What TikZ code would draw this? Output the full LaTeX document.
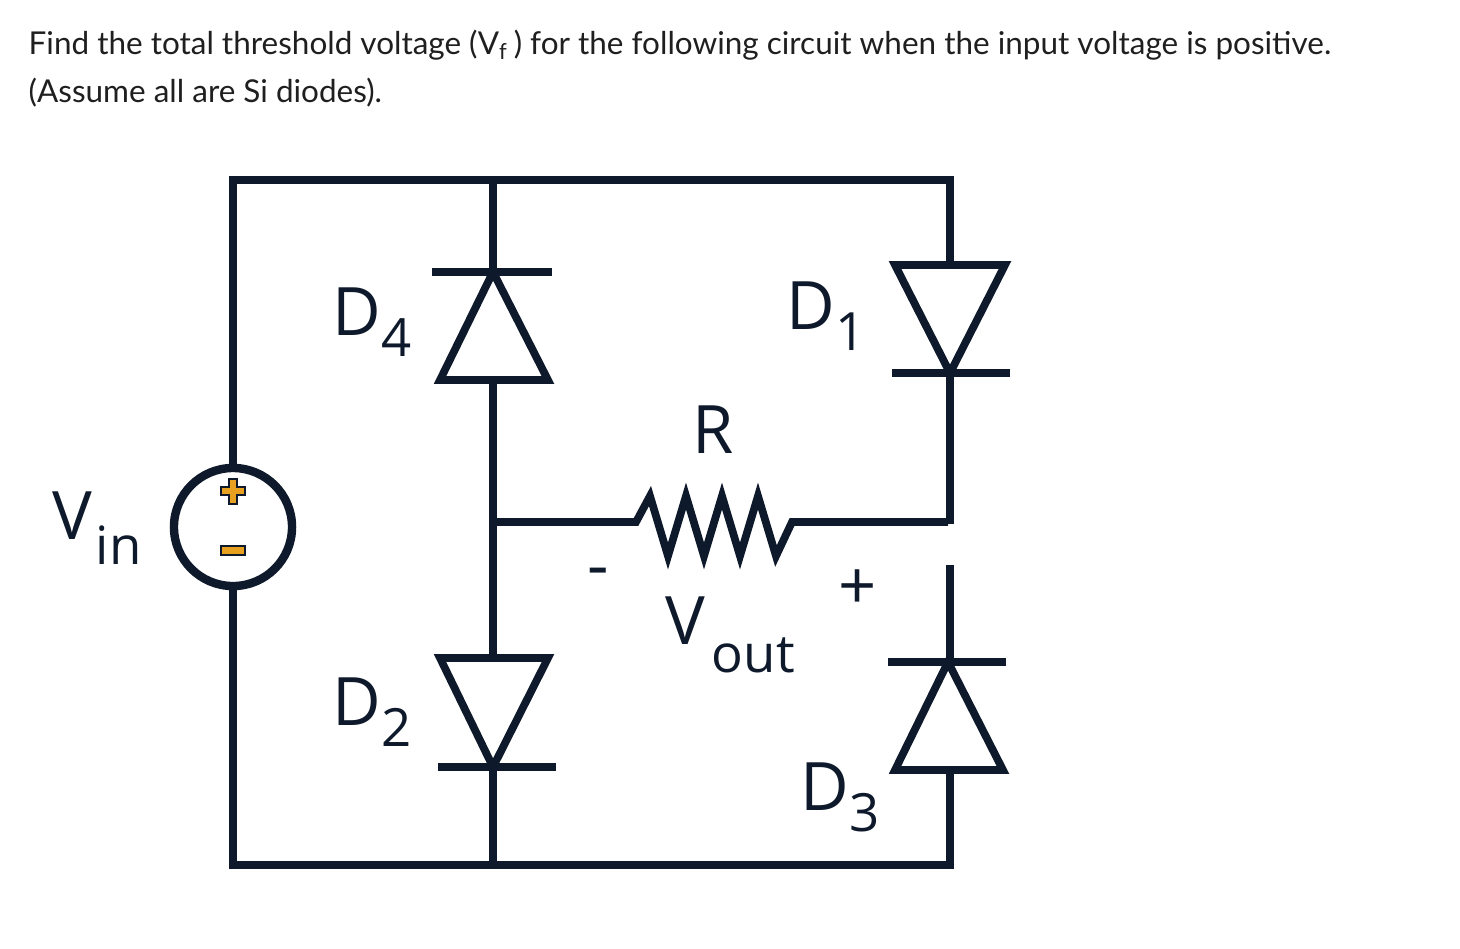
\documentclass[tikz,border=0pt]{standalone}
\usepackage{fontspec}
\setmainfont{Lato}
\newfontfamily\lab{Open Sans}
\newcommand{\lsub}[2][6pt]{\raisebox{-#1}{\fontsize{15}{16}\selectfont #2}}
\begin{document}
\begin{tikzpicture}[x=0.01cm,y=-0.01cm,
 w/.style={line width=2.2pt,draw=wire},
 lbl/.style={font=\lab\fontsize{19}{20}\selectfont,text=wire,inner sep=0},
 ttl/.style={font=\fontsize{8.95}{10}\selectfont,text=txt,anchor=west,inner sep=0}]
\definecolor{wire}{HTML}{0E1A2B}
\definecolor{txt}{HTML}{1F1F1F}
\definecolor{org}{HTML}{E8A020}
\useasboundingbox (0,0) rectangle (1460,948);
\node[ttl] (t1) at (28,45) {Find the total threshold voltage (V\textsubscript{f}\,) for the following circuit when the input voltage is positive.};
\node[ttl] (t2) at (28,93) {(Assume all are Si diodes).};
% wires
\draw[w] (233,465) -- (233,180) -- (950,180) -- (950,265);
\draw[w] (233,590) -- (233,865) -- (950,865) -- (950,770);
\draw[w] (493,180) -- (493,272);
\draw[w] (493,380) -- (493,658);
\draw[w] (493,767) -- (493,865);
\draw[w] (950,373) -- (950,524);
\draw[w] (950,565) -- (950,662);
\draw[w] (493,522) -- (636,522) -- (650,496) -- (668,556) -- (686,496) -- (704,556) -- (722,496) -- (740,556) -- (758,496) -- (776,556) -- (792,522) -- (948,522);
% source
\node[circle,w,line width=2.4pt,minimum size=1.18cm,inner sep=0,fill=white] (src) at (233,527) {};
\filldraw[fill=org,draw=wire,line width=0.3pt] (229,479) -- (237,479) -- (237,487) -- (245,487) -- (245,495) -- (237,495) -- (237,504) -- (229,504) -- (229,495) -- (221,495) -- (221,487) -- (229,487) -- cycle;
\filldraw[fill=org,draw=wire,line width=0.3pt] (221,546) rectangle (245,555);
% diodes
\draw[w,line join=miter] (493,272) -- (440,380) -- (548,380) -- cycle; \draw[w] (432,272) -- (552,272);
\draw[w,line join=miter] (493,767) -- (440,658) -- (548,658) -- cycle; \draw[w] (438,767) -- (556,767);
\draw[w,line join=miter] (950,373) -- (895,265) -- (1005,265) -- cycle; \draw[w] (892,373) -- (1010,373);
\draw[w,line join=miter] (948,662) -- (895,770) -- (1003,770) -- cycle; \draw[w] (888,662) -- (1006,662);
% labels
\node[lbl] (d4) at (372,322) {D\lsub{4}};
\node[lbl] (d1) at (826,316) {D\lsub{1}};
\node[lbl] (d2) at (372,712) {D\lsub{2}};
\node[lbl] (d3) at (840,797) {D\lsub{3}};
\node[lbl] (r) at (713,430) {R};
\node[lbl] (vin) at (97,528) {V\kern1pt\lsub[7pt]{in}};
\node[lbl] (vout) at (730,635) {V\kern2pt\lsub[8pt]{out}};
\node[lbl] (mi) at (598,578) {-};
\node[lbl] (pl) at (858,590) {+};
\end{tikzpicture}
\end{document}
